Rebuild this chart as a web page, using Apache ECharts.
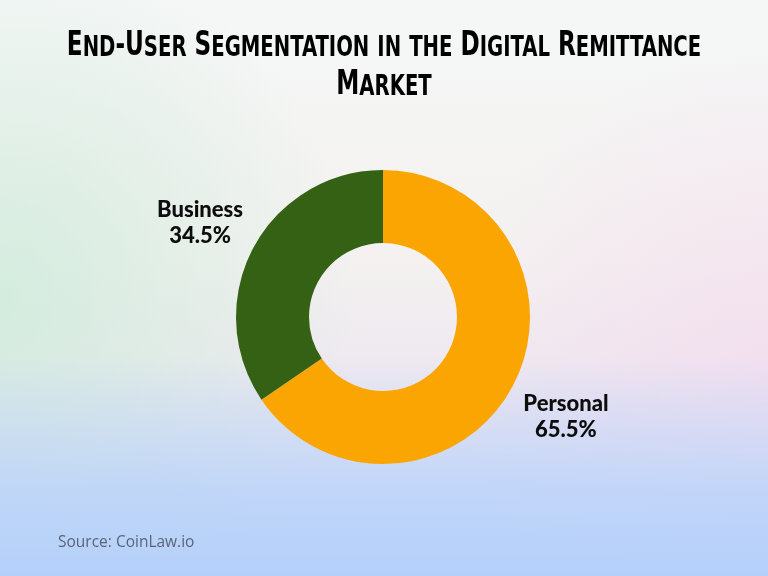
<!DOCTYPE html>
<html>
<head>
<meta charset="utf-8">
<script src="https://cdn.jsdelivr.net/npm/echarts@6/dist/echarts.min.js"></script>
<style>
  html, body { margin: 0; padding: 0; }
  #chart { width: 768px; height: 576px; }
</style>
</head>
<body>
<div id="chart"></div>
<script>
const segments = ['Personal', 'Business'];
const shares = [65.5, 34.5];
const segmentColors = ['#FBA502', '#356114'];
const titleLines = ['End-User Segmentation in the Digital Remittance', 'Market'];
const sourceText = 'Source: CoinLaw.io';

// turn mixed-case text into small caps using two rich styles
function smallCaps(str) {
  let out = '';
  let cur = null, buf = '';
  for (const ch of str) {
    const kind = (ch !== ch.toUpperCase()) ? 's' : 'b';
    if (kind !== cur && buf) { out += '{' + cur + '|' + buf + '}'; buf = ''; }
    cur = kind;
    buf += ch.toUpperCase();
  }
  if (buf) out += '{' + cur + '|' + buf + '}';
  return out;
}

const titleFont = 'DejaVu Sans Condensed';
const titleRich = {
  b: { fontFamily: titleFont, fontWeight: 'bold', fontSize: 33, color: '#0b0b0b', verticalAlign: 'bottom', lineHeight: 38 },
  s: { fontFamily: titleFont, fontWeight: 'bold', fontSize: 28, color: '#0b0b0b', verticalAlign: 'bottom', lineHeight: 38 }
};

const chart = echarts.init(document.getElementById('chart'));

const option = {
  animation: false,
  backgroundColor: new echarts.graphic.LinearGradient(0, 0, 0, 1, [
    { offset: 0, color: '#F5F7F7' },
    { offset: 0.45, color: '#F4F1F0' },
    { offset: 0.7, color: '#ECE6F0' },
    { offset: 1, color: '#E4E4F2' }
  ]),
  graphic: [
    {
      type: 'rect', z: 0, silent: true,
      shape: { x: 0, y: 0, width: 768, height: 576 },
      style: { fill: new echarts.graphic.RadialGradient(0, 0.52, 0.62, [
        { offset: 0, color: 'rgba(208,236,220,0.9)' },
        { offset: 1, color: 'rgba(208,236,220,0)' }
      ]) }
    },
    {
      type: 'rect', z: 0, silent: true,
      shape: { x: 0, y: 0, width: 768, height: 576 },
      style: { fill: new echarts.graphic.RadialGradient(1, 0.64, 0.55, [
        { offset: 0, color: 'rgba(244,220,238,0.75)' },
        { offset: 1, color: 'rgba(244,220,238,0)' }
      ]) }
    },
    {
      type: 'rect', z: 1, silent: true,
      shape: { x: 0, y: 0, width: 768, height: 576 },
      style: { fill: new echarts.graphic.LinearGradient(0, 0, 0, 1, [
        { offset: 0, color: 'rgba(184,210,250,0)' },
        { offset: 0.62, color: 'rgba(184,210,250,0)' },
        { offset: 0.85, color: 'rgba(184,210,250,0.8)' },
        { offset: 1, color: 'rgba(180,208,250,1)' }
      ]) }
    },
    {
      type: 'text', z: 10, silent: true,
      x: 384, y: 44, scaleX: 0.78,
      style: { text: smallCaps(titleLines[0]), rich: titleRich, align: 'center', verticalAlign: 'middle' }
    },
    {
      type: 'text', z: 10, silent: true,
      x: 384, y: 83, scaleX: 0.78,
      style: { text: smallCaps(titleLines[1]), rich: titleRich, align: 'center', verticalAlign: 'middle' }
    },
    {
      type: 'text', z: 10, silent: true,
      left: 58, top: 535,
      style: { text: sourceText, fontFamily: 'Open Sans', fontSize: 15.5, fill: '#5B6579' }
    }
  ],
  series: [
    {
      type: 'pie',
      center: [383, 317],
      radius: [74, 147],
      startAngle: 90,
      silent: true,
      z: 3,
      label: { show: false },
      labelLine: { show: false },
      data: segments.map((name, i) => ({ name, value: shares[i], itemStyle: { color: segmentColors[i] } }))
    },
    {
      // invisible ring that only carries the labels
      type: 'pie',
      center: [383, 320],
      radius: [197, 211],
      startAngle: 90,
      silent: true,
      z: 3,
      itemStyle: { color: 'transparent' },
      labelLine: { show: false },
      label: {
        show: true,
        position: 'inside',
        formatter: p => p.name + '\n' + p.value + '%',
        fontFamily: 'Lato',
        fontWeight: 900,
        fontSize: 22,
        lineHeight: 26,
        color: '#0d0d0d'
      },
      data: segments.map((name, i) => ({ name, value: shares[i] }))
    }
  ]
};

chart.setOption(option);
</script>
</body>
</html>
